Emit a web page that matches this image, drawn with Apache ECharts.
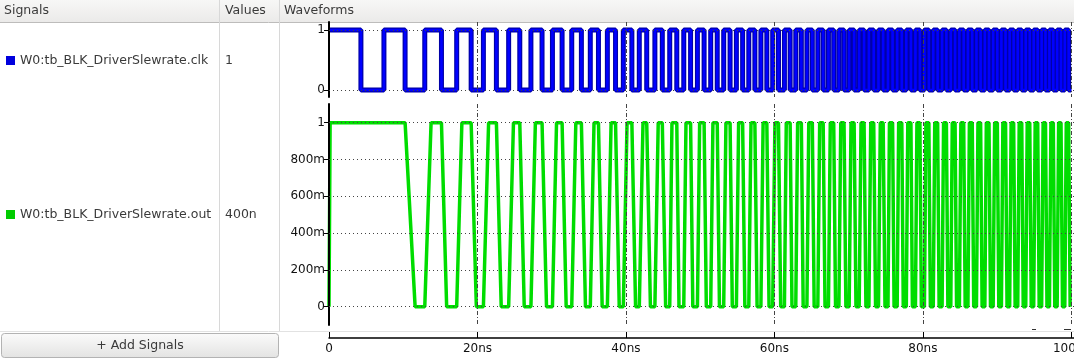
<!DOCTYPE html>
<html><head><meta charset="utf-8">
<script src="https://cdn.jsdelivr.net/npm/echarts@6/dist/echarts.min.js"></script>
<style>html,body{margin:0;padding:0;background:#fff;overflow:hidden}#c{width:1074px;height:360px}</style>
</head><body><div id="c"></div>
<script>
const headers = ['Signals', 'Values', 'Waveforms'];
const signalNames = ['W0:tb_BLK_DriverSlewrate.clk', 'W0:tb_BLK_DriverSlewrate.out'];
const signalValues = ['1', '400n'];
const xTicks = [0, 20, 40, 60, 80, 100];
const clkTicks = [0, 1];
const outTicks = [0, 0.2, 0.4, 0.6, 0.8, 1];
const outTickLabels = ['0', '200m', '400m', '600m', '800m', '1'];
const buttonLabel = '+ Add Signals';

// clk: [time ns, new level]
const clkEdges = [[0,1],[4.3,0],[7.4,1],[10.25,0],[12.9,1],[15.15,0],[17.2,1],[19.15,0],[20.8,1],[22.55,0],[24.2,1],[25.7,0],[27.2,1],[28.7,0],[30.1,1],[31.4,0],[32.7,1],[34.0,0],[35.2,1],[36.3,0],[37.5,1],[38.6,0],[39.65,1],[40.8,0],[41.8,1],[42.8,0],[43.9,1],[44.9,0],
[45.9,1],[46.85,0],[47.79,1],[48.71,0],[49.63,1],[50.53,0],[51.42,1],[52.3,0],[53.17,1],[54.03,0],[54.88,1],[55.72,0],[56.55,1],[57.37,0],[58.18,1],[58.98,0],[59.77,1],[60.55,0],[61.35,1],[62.12,0],[62.88,1],[63.63,0],[64.38,1],[65.11,0],[65.85,1],[66.57,0],[67.28,1],[67.99,0],[68.69,1],[69.38,0],[70.07,1],[70.74,0],[71.42,1],[72.08,0],[72.73,1],[73.38,0],[74.02,1],[74.65,0],
[75.3,1],[75.92,0],[76.54,1],[77.16,0],[77.77,1],[78.39,0],[79.0,1],[79.6,0],[80.21,1],[80.81,0],[81.4,1],[81.99,0],[82.59,1],[83.17,0],[83.76,1],[84.34,0],[84.92,1],[85.5,0],[86.07,1],[86.65,0],[87.22,1],[87.78,0],[88.35,1],[88.91,0],[89.47,1],[90.03,0],[90.58,1],[91.14,0],[91.69,1],[92.23,0],[92.78,1],[93.32,0],[93.86,1],[94.4,0],[94.93,1],[95.47,0],[96.0,1],[96.52,0],[97.05,1],[97.57,0],[98.09,1],[98.61,0],[99.12,1],[99.64,0],[100,0]];

// out: [time ns, value V]
const outPoints = [[0,0],[0.15,1],[10.25,1],[11.6,0],[12.9,0],[13.75,1],[15.15,1],[15.85,0],[17.2,0],[17.9,1],[19.15,1],[19.85,0],[20.8,0],[21.5,1],[22.55,1],[23.2,0],[24.2,0],[24.85,1],[25.7,1],[26.3,0],[27.2,0],[27.8,1],[28.7,1],[29.3,0],[30.1,0],[30.65,1],[31.4,1],[31.95,0],[32.7,0],[33.25,1],[34.0,1],[34.55,0],[35.2,0],[35.7,1],[36.3,1],[36.8,0],[37.5,0],[38.0,1],[38.6,1],[39.1,0],[39.65,0],[40.15,1],[40.8,1],[41.3,0],[41.8,0],[42.3,1],[42.8,1],[43.3,0],[43.9,0],[44.35,1],[44.9,1],[45.35,0],
[45.9,0],[46.2,1],[46.85,1],[47.15,0],[47.79,0],[48.09,1],[48.71,1],[49.01,0],[49.63,0],[49.93,1],[50.53,1],[50.83,0],[51.42,0],[51.72,1],[52.3,1],[52.6,0],[53.17,0],[53.47,1],[54.03,1],[54.33,0],[54.88,0],[55.18,1],[55.72,1],[56.02,0],[56.55,0],[56.85,1],[57.37,1],[57.67,0],[58.18,0],[58.48,1],[58.98,1],[59.28,0],[59.77,0],[60.07,1],[60.55,1],[60.85,0],
[61.35,0],[61.6,1],[62.12,1],[62.37,0],[62.88,0],[63.13,1],[63.63,1],[63.88,0],[64.38,0],[64.63,1],[65.11,1],[65.36,0],[65.85,0],[66.1,1],[66.57,1],[66.82,0],[67.28,0],[67.53,1],[67.99,1],[68.24,0],[68.69,0],[68.94,1],[69.38,1],[69.63,0],[70.07,0],[70.32,1],[70.74,1],[70.99,0],[71.42,0],[71.67,1],[72.08,1],[72.33,0],[72.73,0],[72.98,1],[73.38,1],[73.63,0],[74.02,0],[74.27,1],[74.65,1],[74.9,0],
[75.3,0],[75.5,1],[75.92,1],[76.12,0],[76.54,0],[76.74,1],[77.16,1],[77.36,0],[77.77,0],[77.97,1],[78.39,1],[78.59,0],[79.0,0],[79.2,1],[79.6,1],[79.8,0],[80.21,0],[80.41,1],[80.81,1],[81.01,0],[81.4,0],[81.6,1],[81.99,1],[82.19,0],[82.59,0],[82.79,1],[83.17,1],[83.37,0],[83.76,0],[83.96,1],[84.34,1],[84.54,0],[84.92,0],[85.12,1],[85.5,1],[85.7,0],[86.07,0],[86.27,1],[86.65,1],[86.85,0],[87.22,0],[87.42,1],[87.78,1],[87.98,0],[88.35,0],[88.55,1],[88.91,1],[89.11,0],[89.47,0],[89.67,1],[90.03,1],[90.23,0],[90.58,0],[90.78,1],[91.14,1],[91.34,0],[91.69,0],[91.89,1],[92.23,1],[92.43,0],[92.78,0],[92.98,1],[93.32,1],[93.52,0],[93.86,0],[94.06,1],[94.4,1],[94.6,0],[94.93,0],[95.13,1],[95.47,1],[95.67,0],[96.0,0],[96.2,1],[96.52,1],[96.72,0],[97.05,0],[97.25,1],[97.57,1],[97.77,0],[98.09,0],[98.29,1],[98.61,1],[98.81,0],[99.12,0],[99.32,1],[99.64,1],[99.84,0]];

const FONT = '"DejaVu Sans", Verdana, sans-serif';
const chart = echarts.init(document.getElementById('c'), null, {renderer: 'canvas'});

const gridLineH = {type: [1, 3], color: '#444', width: 1};
const gridLineV = {type: [4, 2, 1, 2], color: '#444', width: 1};
const XMAX = 100.36;

function xAx(gi, withLabels) {
  return {
    gridIndex: gi, type: 'value', min: 0, max: XMAX, interval: 20, z: 4,
    axisLine: {show: withLabels, onZero: false, lineStyle: {color: '#000', width: 1.5}},
    offset: withLabels ? 13 : 0,
    axisTick: {show: withLabels, inside: true, length: 6, lineStyle: {color: '#000'}},
    axisLabel: {show: withLabels, margin: 5, fontFamily: FONT, fontSize: 12, color: '#111',
      showMaxLabel: false, hideOverlap: false, formatter: v => v === 0 ? '0' : v + 'ns'},
    splitLine: {show: true, showMaxLine: false, lineStyle: gridLineV}
  };
}
function yAx(gi, mn, mx, ticks, labels) {
  return {
    gridIndex: gi, type: 'value', min: mn, max: mx, z: 4,
    axisLine: {show: true, onZero: false, lineStyle: {color: '#000', width: 2}},
    axisTick: {show: true, length: 5, customValues: ticks, lineStyle: {color: '#000'}},
    axisLabel: {show: true, customValues: ticks, margin: 4, fontFamily: FONT, fontSize: 12, color: '#111',
      formatter: v => labels[ticks.findIndex(t => Math.abs(t - v) < 1e-6)]},
    splitLine: {show: false}
  };
}

const g = [];
// header
g.push({type: 'rect', shape: {x: 0, y: 0, width: 1074, height: 22},
  style: {fill: new echarts.graphic.LinearGradient(0, 0, 0, 1, [{offset: 0, color: '#f7f7f6'}, {offset: 1, color: '#ebeae9'}])}, z: 1});
g.push({type: 'line', shape: {x1: 0, y1: 22.5, x2: 1074, y2: 22.5}, style: {stroke: '#bdbcbb', lineWidth: 1}, z: 2});
[[4, headers[0]], [225, headers[1]], [284, headers[2]]].forEach(([x, t]) => g.push({type: 'text', x: x, y: 11,
  style: {text: t, fontFamily: FONT, fontSize: 12.5, fill: '#3a3a3a', verticalAlign: 'middle'}, z: 3}));
[219.5, 279.5].forEach(x => g.push({type: 'line', shape: {x1: x, y1: 0, x2: x, y2: 331}, style: {stroke: '#d8d8d8', lineWidth: 1}, z: 2}));
g.push({type: 'line', shape: {x1: 0, y1: 331.5, x2: 1074, y2: 331.5}, style: {stroke: '#e2e2e2', lineWidth: 1}, z: 2});
// rows
const rowY = [60.5, 214.5];
const rowCol = ['#0000dd', '#00cc00'];
signalNames.forEach((n, i) => {
  g.push({type: 'rect', shape: {x: 6, y: rowY[i] - 4.5, width: 9, height: 9}, style: {fill: rowCol[i]}, z: 3});
  g.push({type: 'text', x: 20, y: rowY[i], style: {text: n, fontFamily: FONT, fontSize: 12.5, fill: '#3a3a3a', verticalAlign: 'middle'}, z: 3});
  g.push({type: 'text', x: 225, y: rowY[i], style: {text: signalValues[i], fontFamily: FONT, fontSize: 12.5, fill: '#3a3a3a', verticalAlign: 'middle'}, z: 3});
});
// button
g.push({type: 'rect', shape: {x: 1.5, y: 333.5, width: 277, height: 24, r: 3},
  style: {fill: new echarts.graphic.LinearGradient(0, 0, 0, 1, [{offset: 0, color: '#fbfbfb'}, {offset: 1, color: '#e3e3e2'}]), stroke: '#b3b3b3', lineWidth: 1}, z: 3});
g.push({type: 'text', x: 140, y: 346, style: {text: buttonLabel, fontFamily: FONT, fontSize: 12.5, fill: '#3a3a3a', align: 'center', verticalAlign: 'middle'}, z: 4});
// small marks
g.push({type: 'line', shape: {x1: 1032, y1: 329.5, x2: 1036, y2: 329.5}, style: {stroke: '#333', lineWidth: 1}, z: 5});
g.push({type: 'line', shape: {x1: 1064, y1: 329.5, x2: 1071, y2: 329.5}, style: {stroke: '#333', lineWidth: 1}, z: 5});

const clkData = clkEdges.map(p => [p[0], p[1]]);
const outData = outPoints.map(p => [p[0], p[1]]);

chart.setOption({
  animation: false,
  backgroundColor: '#fff',
  grid: [
    {left: 329, top: 22, width: 745, height: 75, containLabel: false, outerBoundsMode: 'none'},
    {left: 329, top: 104, width: 745, height: 221, containLabel: false, outerBoundsMode: 'none'}
  ],
  xAxis: [xAx(0, false), xAx(1, true)],
  yAxis: [
    yAx(0, -0.1167, 1.1333, clkTicks, ['0', '1']),
    yAx(1, -0.0995, 1.1016, outTicks, outTickLabels)
  ],
  series: [
    {type: 'line', xAxisIndex: 0, yAxisIndex: 0, step: 'end', showSymbol: false, clip: true,
      lineStyle: {color: '#0000a8', width: 5}, data: clkData, z: 2,
      markLine: {silent: true, symbol: 'none', label: {show: false}, lineStyle: gridLineH, z: 5,
        data: clkTicks.map(v => ({yAxis: v}))}},
    {type: 'line', xAxisIndex: 0, yAxisIndex: 0, step: 'end', showSymbol: false, clip: true,
      lineStyle: {color: '#0000ff', width: 2.6}, data: clkData, z: 3},
    {type: 'line', xAxisIndex: 1, yAxisIndex: 1, showSymbol: false, clip: true,
      lineStyle: {color: '#00dd00', width: 3.5}, data: outData, z: 3,
      markLine: {silent: true, symbol: 'none', label: {show: false}, lineStyle: gridLineH, z: 5,
        data: outTicks.map(v => ({yAxis: v}))}}
  ],
  graphic: g
});
</script></body></html>
